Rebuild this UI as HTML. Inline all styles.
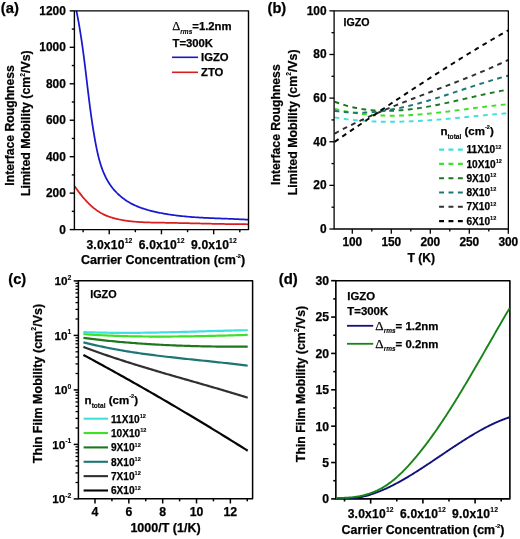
<!DOCTYPE html>
<html lang="en"><head><meta charset="utf-8"><title>Figure</title>
<style>html,body{margin:0;padding:0;background:#fff}svg{display:block}line,rect,path{stroke-linecap:butt}</style>
</head><body>
<svg width="520" height="539" viewBox="0 0 520 539" font-family="Liberation Sans, Arial, sans-serif" font-weight="bold" fill="#000">
<rect width="520" height="539" fill="#fff"/>
<g stroke="#000" stroke-width="0.25" stroke-linejoin="round">
<clipPath id="ca"><rect x="74.40" y="10.85" width="174.10" height="218.75"/></clipPath>
<g clip-path="url(#ca)">
<path d="M74.30,1.00 L76.44,10.88 L76.66,11.98 L76.88,13.07 L77.10,14.16 L77.31,15.25 L77.52,16.34 L77.73,17.42 L77.93,18.51 L78.13,19.60 L78.33,20.69 L78.53,21.77 L78.73,22.86 L78.92,23.94 L79.11,25.03 L79.29,26.11 L79.48,27.20 L79.66,28.28 L79.84,29.36 L80.02,30.44 L80.20,31.53 L80.37,32.61 L80.54,33.69 L80.71,34.77 L80.88,35.85 L81.05,36.93 L81.21,38.01 L81.38,39.09 L81.54,40.17 L81.70,41.25 L81.85,42.32 L82.01,43.40 L82.16,44.48 L82.32,45.55 L82.47,46.63 L82.62,47.71 L82.77,48.78 L82.91,49.86 L83.06,50.94 L83.20,52.01 L83.35,53.09 L83.49,54.16 L83.63,55.23 L83.77,56.31 L83.91,57.38 L84.05,58.46 L84.18,59.53 L84.32,60.60 L84.45,61.68 L84.59,62.75 L84.72,63.82 L84.85,64.90 L84.99,65.97 L85.12,67.04 L85.25,68.12 L85.38,69.19 L85.51,70.26 L85.64,71.33 L85.77,72.41 L85.90,73.48 L86.02,74.55 L86.15,75.62 L86.28,76.69 L86.41,77.77 L86.53,78.84 L86.66,79.91 L86.79,80.98 L86.92,82.05 L87.04,83.13 L87.17,84.20 L87.30,85.27 L87.43,86.34 L87.55,87.42 L87.68,88.49 L87.81,89.56 L87.94,90.64 L88.07,91.71 L88.20,92.78 L88.33,93.85 L88.46,94.93 L88.59,96.00 L88.73,97.08 L88.86,98.15 L88.99,99.22 L89.13,100.30 L89.26,101.37 L89.40,102.45 L89.53,103.52 L89.67,104.60 L89.81,105.67 L89.95,106.75 L90.09,107.82 L90.23,108.90 L90.38,109.98 L90.52,111.05 L90.67,112.13 L90.82,113.21 L90.96,114.29 L91.11,115.37 L91.27,116.44 L91.42,117.52 L91.57,118.60 L91.73,119.68 L91.89,120.76 L92.05,121.84 L92.21,122.93 L92.37,124.01 L92.54,125.09 L92.70,126.17 L92.87,127.25 L93.04,128.34 L93.21,129.42 L93.39,130.51 L93.57,131.59 L93.74,132.68 L93.93,133.76 L94.11,134.85 L94.29,135.93 L94.48,137.02 L94.67,138.11 L94.87,139.20 L95.06,140.29 L95.26,141.38 L95.46,142.47 L95.66,143.56 L95.87,144.65 L96.08,145.74 L96.29,146.83 L96.51,147.92 L96.73,149.01 L96.96,150.10 L97.19,151.19 L97.43,152.27 L97.67,153.35 L97.92,154.43 L98.17,155.51 L98.44,156.59 L98.71,157.66 L98.98,158.73 L99.27,159.79 L99.56,160.85 L99.86,161.91 L100.17,162.96 L100.49,164.01 L100.82,165.06 L101.16,166.09 L101.51,167.13 L101.87,168.15 L102.24,169.17 L102.62,170.19 L103.02,171.20 L103.42,172.20 L103.84,173.19 L104.27,174.18 L104.71,175.16 L105.17,176.13 L105.64,177.09 L106.12,178.05 L106.62,179.00 L107.13,179.93 L107.66,180.86 L108.20,181.78 L108.76,182.69 L109.33,183.59 L109.92,184.48 L110.53,185.35 L111.15,186.22 L111.79,187.08 L112.45,187.92 L113.12,188.76 L113.81,189.58 L114.51,190.39 L115.23,191.19 L115.97,191.97 L116.72,192.74 L117.49,193.50 L118.26,194.25 L119.06,194.98 L119.86,195.70 L120.68,196.40 L121.52,197.09 L122.36,197.76 L123.22,198.42 L124.09,199.07 L124.97,199.70 L125.87,200.31 L126.77,200.91 L127.69,201.49 L128.61,202.06 L129.55,202.61 L130.49,203.14 L131.45,203.65 L132.41,204.15 L133.38,204.64 L134.37,205.11 L135.35,205.56 L136.35,206.00 L137.36,206.43 L138.37,206.84 L139.39,207.24 L140.41,207.62 L141.44,207.99 L142.48,208.35 L143.52,208.70 L144.56,209.04 L145.62,209.37 L146.67,209.68 L147.73,209.99 L148.79,210.28 L149.86,210.57 L150.93,210.85 L152.00,211.12 L153.07,211.38 L154.15,211.63 L155.22,211.87 L156.30,212.11 L157.38,212.34 L158.46,212.56 L159.54,212.78 L160.62,212.99 L161.70,213.20 L162.78,213.40 L163.86,213.59 L164.94,213.78 L166.02,213.97 L167.10,214.15 L168.18,214.32 L169.26,214.49 L170.34,214.65 L171.42,214.81 L172.51,214.96 L173.59,215.11 L174.67,215.25 L175.75,215.39 L176.83,215.53 L177.91,215.66 L178.99,215.79 L180.08,215.91 L181.16,216.03 L182.24,216.14 L183.32,216.25 L184.40,216.36 L185.49,216.46 L186.57,216.56 L187.65,216.66 L188.73,216.75 L189.82,216.84 L190.90,216.93 L191.98,217.01 L193.07,217.09 L194.15,217.17 L195.23,217.25 L196.32,217.32 L197.40,217.39 L198.49,217.46 L199.57,217.52 L200.65,217.59 L201.74,217.65 L202.82,217.71 L203.91,217.76 L204.99,217.82 L206.08,217.87 L207.16,217.93 L208.25,217.98 L209.33,218.03 L210.42,218.07 L211.50,218.12 L212.59,218.17 L213.67,218.21 L214.76,218.26 L215.85,218.30 L216.93,218.34 L218.02,218.38 L219.11,218.43 L220.19,218.47 L221.28,218.51 L222.37,218.55 L223.45,218.59 L224.54,218.63 L225.63,218.67 L226.71,218.71 L227.80,218.75 L228.89,218.80 L229.98,218.84 L231.07,218.88 L232.15,218.93 L233.24,218.97 L234.33,219.02 L235.42,219.06 L236.51,219.11 L237.60,219.16 L238.68,219.21 L239.77,219.26 L240.86,219.32 L241.95,219.37 L243.04,219.43 L244.13,219.49 L245.22,219.55 L246.31,219.61 L247.40,219.68 L248.49,219.74" fill="none" stroke="#1818d0" stroke-width="1.75" stroke-linejoin="round" />
<path d="M74.74,186.35 L75.10,186.85 L75.45,187.36 L75.81,187.86 L76.17,188.37 L76.54,188.87 L76.90,189.38 L77.27,189.88 L77.64,190.39 L78.01,190.89 L78.39,191.40 L78.76,191.90 L79.14,192.40 L79.52,192.90 L79.91,193.40 L80.29,193.90 L80.68,194.40 L81.07,194.89 L81.47,195.39 L81.86,195.88 L82.26,196.37 L82.66,196.86 L83.07,197.34 L83.47,197.83 L83.88,198.31 L84.30,198.79 L84.71,199.26 L85.13,199.73 L85.55,200.20 L85.98,200.67 L86.40,201.13 L86.83,201.59 L87.27,202.05 L87.70,202.50 L88.14,202.95 L88.58,203.40 L89.03,203.84 L89.48,204.28 L89.93,204.71 L90.39,205.14 L90.84,205.56 L91.31,205.98 L91.77,206.40 L92.24,206.81 L92.71,207.21 L93.19,207.61 L93.67,208.01 L94.15,208.40 L94.64,208.78 L95.13,209.16 L95.62,209.53 L96.12,209.90 L96.62,210.26 L97.13,210.61 L97.64,210.96 L98.15,211.30 L98.67,211.64 L99.19,211.97 L99.71,212.29 L100.24,212.60 L100.77,212.91 L101.31,213.21 L101.85,213.50 L102.39,213.79 L102.94,214.07 L103.49,214.34 L104.05,214.61 L104.61,214.87 L105.17,215.12 L105.74,215.37 L106.31,215.61 L106.88,215.84 L107.45,216.07 L108.03,216.29 L108.61,216.51 L109.20,216.72 L109.78,216.92 L110.37,217.12 L110.96,217.31 L111.55,217.50 L112.15,217.68 L112.75,217.86 L113.35,218.04 L113.95,218.20 L114.55,218.37 L115.16,218.53 L115.76,218.68 L116.37,218.83 L116.98,218.97 L117.59,219.11 L118.20,219.25 L118.81,219.38 L119.43,219.51 L120.04,219.64 L120.65,219.76 L121.27,219.88 L121.89,219.99 L122.50,220.10 L123.12,220.21 L123.74,220.31 L124.35,220.42 L124.97,220.51 L125.59,220.61 L126.21,220.70 L126.83,220.79 L127.45,220.87 L128.07,220.96 L128.69,221.04 L129.31,221.12 L129.93,221.19 L130.55,221.26 L131.17,221.33 L131.79,221.40 L132.41,221.46 L133.03,221.52 L133.66,221.58 L134.28,221.64 L134.90,221.70 L135.53,221.75 L136.15,221.80 L136.77,221.85 L137.40,221.90 L138.02,221.94 L138.64,221.98 L139.27,222.02 L139.89,222.06 L140.52,222.10 L141.14,222.13 L141.77,222.17 L142.39,222.20 L143.02,222.23 L143.64,222.26 L144.27,222.29 L144.89,222.31 L145.52,222.34 L146.15,222.36 L146.77,222.38 L147.40,222.41 L148.02,222.43 L148.65,222.44 L149.28,222.46 L149.90,222.48 L150.53,222.50 L151.16,222.51 L151.78,222.53 L152.41,222.54 L153.04,222.55 L153.66,222.57 L154.29,222.58 L154.92,222.59 L155.54,222.60 L156.17,222.61 L156.79,222.62 L157.42,222.63 L158.05,222.64 L158.67,222.65 L159.30,222.66 L159.93,222.67 L160.55,222.68 L161.18,222.69 L161.80,222.70 L162.43,222.71 L163.05,222.72 L163.68,222.73 L164.31,222.74 L164.93,222.75 L165.56,222.76 L166.18,222.77 L166.81,222.78 L167.43,222.79 L168.06,222.80 L168.68,222.81 L169.30,222.82 L169.93,222.84 L170.55,222.85 L171.18,222.86 L171.80,222.87 L172.43,222.88 L173.05,222.90 L173.67,222.91 L174.30,222.92 L174.92,222.93 L175.55,222.95 L176.17,222.96 L176.79,222.97 L177.42,222.98 L178.04,223.00 L178.66,223.01 L179.29,223.02 L179.91,223.04 L180.53,223.05 L181.16,223.06 L181.78,223.08 L182.40,223.09 L183.03,223.10 L183.65,223.12 L184.27,223.13 L184.90,223.15 L185.52,223.16 L186.14,223.17 L186.76,223.19 L187.39,223.20 L188.01,223.22 L188.63,223.23 L189.26,223.24 L189.88,223.26 L190.50,223.27 L191.12,223.29 L191.75,223.30 L192.37,223.32 L192.99,223.33 L193.61,223.34 L194.24,223.36 L194.86,223.37 L195.48,223.39 L196.10,223.40 L196.73,223.42 L197.35,223.43 L197.97,223.44 L198.59,223.46 L199.21,223.47 L199.84,223.49 L200.46,223.50 L201.08,223.52 L201.70,223.53 L202.33,223.54 L202.95,223.56 L203.57,223.57 L204.19,223.59 L204.82,223.60 L205.44,223.61 L206.06,223.63 L206.68,223.64 L207.31,223.66 L207.93,223.67 L208.55,223.68 L209.17,223.70 L209.80,223.71 L210.42,223.72 L211.04,223.74 L211.66,223.75 L212.29,223.76 L212.91,223.78 L213.53,223.79 L214.15,223.80 L214.78,223.81 L215.40,223.83 L216.02,223.84 L216.65,223.85 L217.27,223.86 L217.89,223.88 L218.51,223.89 L219.14,223.90 L219.76,223.91 L220.38,223.92 L221.01,223.93 L221.63,223.95 L222.25,223.96 L222.88,223.97 L223.50,223.98 L224.13,223.99 L224.75,224.00 L225.37,224.01 L226.00,224.02 L226.62,224.03 L227.24,224.04 L227.87,224.05 L228.49,224.06 L229.12,224.07 L229.74,224.08 L230.37,224.09 L230.99,224.10 L231.61,224.11 L232.24,224.11 L232.86,224.12 L233.49,224.13 L234.11,224.14 L234.74,224.15 L235.36,224.15 L235.99,224.16 L236.61,224.17 L237.24,224.17 L237.87,224.18 L238.49,224.19 L239.12,224.19 L239.74,224.20 L240.37,224.20 L241.00,224.21 L241.62,224.21 L242.25,224.22 L242.87,224.22 L243.50,224.23 L244.13,224.23 L244.75,224.24 L245.38,224.24 L246.01,224.24 L246.64,224.25 L247.26,224.25 L247.89,224.25 L248.52,224.25" fill="none" stroke="#d81e1e" stroke-width="1.75" stroke-linejoin="round" />
</g>
<rect x="74.40" y="10.85" width="174.10" height="218.75" fill="none" stroke="#000" stroke-width="1.4"/>
<line x1="69.70" y1="229.60" x2="74.40" y2="229.60" stroke="#000" stroke-width="1.4" />
<text x="65.80" y="233.50" font-size="11.9" text-anchor="end" >0</text>
<line x1="71.80" y1="211.37" x2="74.40" y2="211.37" stroke="#000" stroke-width="1.4" />
<line x1="69.70" y1="193.14" x2="74.40" y2="193.14" stroke="#000" stroke-width="1.4" />
<text x="65.80" y="197.04" font-size="11.9" text-anchor="end" >200</text>
<line x1="71.80" y1="174.91" x2="74.40" y2="174.91" stroke="#000" stroke-width="1.4" />
<line x1="69.70" y1="156.68" x2="74.40" y2="156.68" stroke="#000" stroke-width="1.4" />
<text x="65.80" y="160.58" font-size="11.9" text-anchor="end" >400</text>
<line x1="71.80" y1="138.45" x2="74.40" y2="138.45" stroke="#000" stroke-width="1.4" />
<line x1="69.70" y1="120.22" x2="74.40" y2="120.22" stroke="#000" stroke-width="1.4" />
<text x="65.80" y="124.12" font-size="11.9" text-anchor="end" >600</text>
<line x1="71.80" y1="102.00" x2="74.40" y2="102.00" stroke="#000" stroke-width="1.4" />
<line x1="69.70" y1="83.77" x2="74.40" y2="83.77" stroke="#000" stroke-width="1.4" />
<text x="65.80" y="87.67" font-size="11.9" text-anchor="end" >800</text>
<line x1="71.80" y1="65.54" x2="74.40" y2="65.54" stroke="#000" stroke-width="1.4" />
<line x1="69.70" y1="47.31" x2="74.40" y2="47.31" stroke="#000" stroke-width="1.4" />
<text x="65.80" y="51.21" font-size="11.9" text-anchor="end" >1000</text>
<line x1="71.80" y1="29.08" x2="74.40" y2="29.08" stroke="#000" stroke-width="1.4" />
<line x1="69.70" y1="10.85" x2="74.40" y2="10.85" stroke="#000" stroke-width="1.4" />
<text x="65.80" y="14.75" font-size="11.9" text-anchor="end" >1200</text>
<line x1="83.11" y1="229.60" x2="83.11" y2="232.20" stroke="#000" stroke-width="1.4" />
<line x1="109.22" y1="229.60" x2="109.22" y2="234.30" stroke="#000" stroke-width="1.4" />
<text x="109.52" y="248.50" font-size="12.1" text-anchor="middle" letter-spacing="0.2">3.0x10<tspan font-size="6.8" dy="-5.6" stroke-width="0.1">12</tspan></text>
<line x1="135.34" y1="229.60" x2="135.34" y2="232.20" stroke="#000" stroke-width="1.4" />
<line x1="161.45" y1="229.60" x2="161.45" y2="234.30" stroke="#000" stroke-width="1.4" />
<text x="161.75" y="248.50" font-size="12.1" text-anchor="middle" letter-spacing="0.2">6.0x10<tspan font-size="6.8" dy="-5.6" stroke-width="0.1">12</tspan></text>
<line x1="187.56" y1="229.60" x2="187.56" y2="232.20" stroke="#000" stroke-width="1.4" />
<line x1="213.68" y1="229.60" x2="213.68" y2="234.30" stroke="#000" stroke-width="1.4" />
<text x="213.98" y="248.50" font-size="12.1" text-anchor="middle" letter-spacing="0.2">9.0x10<tspan font-size="6.8" dy="-5.6" stroke-width="0.1">12</tspan></text>
<line x1="239.80" y1="229.60" x2="239.80" y2="232.20" stroke="#000" stroke-width="1.4" />
<text x="163.10" y="263.80" font-size="12.5" text-anchor="middle" >Carrier Concentration (cm<tspan font-size="5.8" dy="-5.8" stroke-width="0.1">-2</tspan><tspan dy="5.8">)</tspan></text>
<text x="0.80" y="13.40" font-size="14.8" text-anchor="start" >(a)</text>
<text transform="translate(13.60,125.40) rotate(-90)" font-size="12.2" text-anchor="middle">Interface Roughness</text>
<text transform="translate(30.40,123.20) rotate(-90)" font-size="12.35" text-anchor="middle">Limited Mobility (cm<tspan font-size="6.8" dy="-5.4" stroke-width="0.1">2</tspan><tspan dy="5.4">/Vs)</tspan></text>
<text x="172.3" y="30.3" font-size="11.3"><tspan font-family="Liberation Serif, Times New Roman, serif" font-weight="normal" font-size="12.5">&#916;</tspan><tspan font-size="6.5" dy="3.4" stroke-width="0.1" font-style='italic'>rms</tspan><tspan dy="-3.4">=1.2nm</tspan></text>
<text x="172.50" y="47.10" font-size="11.3" text-anchor="start" >T=300K</text>
<line x1="172.00" y1="57.30" x2="198.00" y2="57.30" stroke="#1818d0" stroke-width="1.6" />
<text x="201.00" y="61.30" font-size="11.3" text-anchor="start" >IGZO</text>
<line x1="172.00" y1="72.30" x2="198.00" y2="72.30" stroke="#d81e1e" stroke-width="1.6" />
<text x="201.00" y="76.30" font-size="11.3" text-anchor="start" >ZTO</text>
<clipPath id="cb"><rect x="334.10" y="10.85" width="174.75" height="218.15"/></clipPath>
<g clip-path="url(#cb)">
<path d="M334.59,117.41 L336.05,117.66 L337.51,117.90 L338.97,118.13 L340.43,118.35 L341.89,118.57 L343.35,118.77 L344.81,118.97 L346.27,119.16 L347.73,119.35 L349.19,119.52 L350.65,119.69 L352.11,119.85 L353.57,120.01 L355.03,120.16 L356.49,120.30 L357.95,120.43 L359.41,120.56 L360.87,120.68 L362.33,120.79 L363.79,120.90 L365.25,121.00 L366.71,121.09 L368.17,121.18 L369.63,121.26 L371.09,121.33 L372.55,121.40 L374.01,121.47 L375.47,121.52 L376.93,121.57 L378.39,121.62 L379.85,121.66 L381.30,121.69 L382.76,121.72 L384.22,121.74 L385.68,121.76 L387.14,121.77 L388.60,121.78 L390.06,121.78 L391.52,121.78 L392.98,121.77 L394.44,121.76 L395.90,121.75 L397.36,121.72 L398.82,121.70 L400.28,121.67 L401.74,121.63 L403.20,121.59 L404.66,121.55 L406.12,121.50 L407.58,121.45 L409.04,121.40 L410.50,121.34 L411.96,121.27 L413.42,121.21 L414.88,121.14 L416.34,121.06 L417.80,120.99 L419.26,120.91 L420.72,120.82 L422.18,120.73 L423.64,120.65 L425.10,120.55 L426.56,120.46 L428.02,120.36 L429.48,120.26 L430.94,120.15 L432.39,120.05 L433.85,119.94 L435.31,119.82 L436.77,119.71 L438.23,119.60 L439.69,119.48 L441.15,119.36 L442.61,119.23 L444.07,119.11 L445.53,118.99 L446.99,118.86 L448.45,118.73 L449.91,118.60 L451.37,118.47 L452.83,118.33 L454.29,118.20 L455.75,118.06 L457.21,117.93 L458.67,117.79 L460.13,117.65 L461.59,117.51 L463.05,117.37 L464.51,117.23 L465.97,117.09 L467.43,116.94 L468.89,116.80 L470.35,116.66 L471.81,116.51 L473.27,116.37 L474.73,116.23 L476.19,116.08 L477.65,115.94 L479.11,115.80 L480.57,115.66 L482.03,115.51 L483.48,115.37 L484.94,115.23 L486.40,115.09 L487.86,114.95 L489.32,114.81 L490.78,114.67 L492.24,114.53 L493.70,114.40 L495.16,114.26 L496.62,114.13 L498.08,114.00 L499.54,113.87 L501.00,113.74 L502.46,113.61 L503.92,113.48 L505.38,113.36 L506.84,113.23 L508.30,113.11" fill="none" stroke="#40e0e0" stroke-width="1.95" stroke-linejoin="round" stroke-dasharray="4.8 4.5"/>
<path d="M334.59,108.74 L336.05,109.13 L337.51,109.51 L338.97,109.87 L340.43,110.22 L341.89,110.55 L343.35,110.88 L344.81,111.19 L346.27,111.49 L347.73,111.78 L349.19,112.06 L350.65,112.33 L352.11,112.58 L353.57,112.82 L355.03,113.06 L356.49,113.28 L357.95,113.49 L359.41,113.69 L360.87,113.88 L362.33,114.06 L363.79,114.22 L365.25,114.38 L366.71,114.53 L368.17,114.67 L369.63,114.80 L371.09,114.92 L372.55,115.03 L374.01,115.13 L375.47,115.22 L376.93,115.31 L378.39,115.38 L379.85,115.45 L381.30,115.50 L382.76,115.55 L384.22,115.59 L385.68,115.63 L387.14,115.65 L388.60,115.67 L390.06,115.68 L391.52,115.68 L392.98,115.67 L394.44,115.66 L395.90,115.64 L397.36,115.61 L398.82,115.58 L400.28,115.54 L401.74,115.49 L403.20,115.44 L404.66,115.38 L406.12,115.31 L407.58,115.24 L409.04,115.17 L410.50,115.08 L411.96,114.99 L413.42,114.90 L414.88,114.80 L416.34,114.70 L417.80,114.59 L419.26,114.48 L420.72,114.36 L422.18,114.23 L423.64,114.11 L425.10,113.98 L426.56,113.84 L428.02,113.70 L429.48,113.56 L430.94,113.41 L432.39,113.26 L433.85,113.11 L435.31,112.95 L436.77,112.79 L438.23,112.63 L439.69,112.46 L441.15,112.29 L442.61,112.12 L444.07,111.95 L445.53,111.78 L446.99,111.60 L448.45,111.42 L449.91,111.24 L451.37,111.05 L452.83,110.87 L454.29,110.69 L455.75,110.50 L457.21,110.31 L458.67,110.12 L460.13,109.93 L461.59,109.74 L463.05,109.55 L464.51,109.36 L465.97,109.17 L467.43,108.98 L468.89,108.79 L470.35,108.60 L471.81,108.41 L473.27,108.22 L474.73,108.03 L476.19,107.84 L477.65,107.65 L479.11,107.47 L480.57,107.28 L482.03,107.10 L483.48,106.91 L484.94,106.73 L486.40,106.56 L487.86,106.38 L489.32,106.20 L490.78,106.03 L492.24,105.86 L493.70,105.69 L495.16,105.53 L496.62,105.37 L498.08,105.21 L499.54,105.05 L501.00,104.90 L502.46,104.75 L503.92,104.60 L505.38,104.46 L506.84,104.32 L508.30,104.19" fill="none" stroke="#3fe02a" stroke-width="1.95" stroke-linejoin="round" stroke-dasharray="4.8 4.5"/>
<path d="M334.59,101.66 L336.05,102.22 L337.51,102.76 L338.97,103.28 L340.43,103.78 L341.89,104.26 L343.35,104.72 L344.81,105.16 L346.27,105.58 L347.73,105.99 L349.19,106.38 L350.65,106.75 L352.11,107.10 L353.57,107.43 L355.03,107.75 L356.49,108.05 L357.95,108.34 L359.41,108.60 L360.87,108.85 L362.33,109.09 L363.79,109.31 L365.25,109.51 L366.71,109.70 L368.17,109.87 L369.63,110.03 L371.09,110.18 L372.55,110.30 L374.01,110.42 L375.47,110.52 L376.93,110.61 L378.39,110.68 L379.85,110.74 L381.30,110.79 L382.76,110.82 L384.22,110.84 L385.68,110.85 L387.14,110.85 L388.60,110.83 L390.06,110.80 L391.52,110.76 L392.98,110.71 L394.44,110.65 L395.90,110.58 L397.36,110.49 L398.82,110.40 L400.28,110.30 L401.74,110.18 L403.20,110.06 L404.66,109.92 L406.12,109.78 L407.58,109.63 L409.04,109.47 L410.50,109.30 L411.96,109.12 L413.42,108.93 L414.88,108.74 L416.34,108.53 L417.80,108.32 L419.26,108.10 L420.72,107.88 L422.18,107.65 L423.64,107.41 L425.10,107.16 L426.56,106.91 L428.02,106.65 L429.48,106.39 L430.94,106.12 L432.39,105.85 L433.85,105.57 L435.31,105.28 L436.77,104.99 L438.23,104.70 L439.69,104.40 L441.15,104.10 L442.61,103.79 L444.07,103.48 L445.53,103.17 L446.99,102.85 L448.45,102.53 L449.91,102.21 L451.37,101.89 L452.83,101.56 L454.29,101.23 L455.75,100.90 L457.21,100.56 L458.67,100.23 L460.13,99.90 L461.59,99.56 L463.05,99.22 L464.51,98.88 L465.97,98.55 L467.43,98.21 L468.89,97.87 L470.35,97.53 L471.81,97.20 L473.27,96.86 L474.73,96.52 L476.19,96.19 L477.65,95.86 L479.11,95.53 L480.57,95.20 L482.03,94.87 L483.48,94.55 L484.94,94.22 L486.40,93.90 L487.86,93.59 L489.32,93.28 L490.78,92.97 L492.24,92.66 L493.70,92.36 L495.16,92.06 L496.62,91.77 L498.08,91.48 L499.54,91.19 L501.00,90.91 L502.46,90.64 L503.92,90.37 L505.38,90.11 L506.84,89.85 L508.30,89.60" fill="none" stroke="#1d781d" stroke-width="1.95" stroke-linejoin="round" stroke-dasharray="4.8 4.5"/>
<path d="M334.59,110.72 L336.05,110.96 L337.51,111.18 L338.97,111.39 L340.43,111.59 L341.89,111.76 L343.35,111.92 L344.81,112.07 L346.27,112.20 L347.73,112.31 L349.19,112.41 L350.65,112.50 L352.11,112.57 L353.57,112.62 L355.03,112.66 L356.49,112.69 L357.95,112.70 L359.41,112.70 L360.87,112.68 L362.33,112.66 L363.79,112.62 L365.25,112.56 L366.71,112.49 L368.17,112.41 L369.63,112.32 L371.09,112.22 L372.55,112.10 L374.01,111.97 L375.47,111.83 L376.93,111.68 L378.39,111.52 L379.85,111.35 L381.30,111.16 L382.76,110.97 L384.22,110.76 L385.68,110.55 L387.14,110.32 L388.60,110.08 L390.06,109.84 L391.52,109.58 L392.98,109.32 L394.44,109.05 L395.90,108.77 L397.36,108.47 L398.82,108.18 L400.28,107.87 L401.74,107.55 L403.20,107.23 L404.66,106.90 L406.12,106.56 L407.58,106.21 L409.04,105.86 L410.50,105.50 L411.96,105.13 L413.42,104.76 L414.88,104.38 L416.34,103.99 L417.80,103.60 L419.26,103.20 L420.72,102.79 L422.18,102.39 L423.64,101.97 L425.10,101.55 L426.56,101.13 L428.02,100.70 L429.48,100.26 L430.94,99.83 L432.39,99.38 L433.85,98.94 L435.31,98.49 L436.77,98.04 L438.23,97.58 L439.69,97.12 L441.15,96.66 L442.61,96.20 L444.07,95.73 L445.53,95.26 L446.99,94.79 L448.45,94.31 L449.91,93.84 L451.37,93.36 L452.83,92.88 L454.29,92.40 L455.75,91.92 L457.21,91.44 L458.67,90.96 L460.13,90.48 L461.59,90.00 L463.05,89.51 L464.51,89.03 L465.97,88.55 L467.43,88.07 L468.89,87.59 L470.35,87.11 L471.81,86.63 L473.27,86.16 L474.73,85.68 L476.19,85.21 L477.65,84.74 L479.11,84.27 L480.57,83.80 L482.03,83.34 L483.48,82.87 L484.94,82.42 L486.40,81.96 L487.86,81.51 L489.32,81.06 L490.78,80.61 L492.24,80.17 L493.70,79.74 L495.16,79.30 L496.62,78.88 L498.08,78.45 L499.54,78.03 L501.00,77.62 L502.46,77.21 L503.92,76.81 L505.38,76.41 L506.84,76.02 L508.30,75.63" fill="none" stroke="#1d7676" stroke-width="1.95" stroke-linejoin="round" stroke-dasharray="4.8 4.5"/>
<path d="M334.59,133.57 L336.05,132.79 L337.51,132.01 L338.97,131.24 L340.43,130.48 L341.89,129.72 L343.35,128.97 L344.81,128.23 L346.27,127.49 L347.73,126.76 L349.19,126.03 L350.65,125.31 L352.11,124.60 L353.57,123.89 L355.03,123.19 L356.49,122.49 L357.95,121.80 L359.41,121.11 L360.87,120.43 L362.33,119.75 L363.79,119.08 L365.25,118.42 L366.71,117.75 L368.17,117.10 L369.63,116.44 L371.09,115.80 L372.55,115.15 L374.01,114.51 L375.47,113.88 L376.93,113.25 L378.39,112.62 L379.85,111.99 L381.30,111.37 L382.76,110.76 L384.22,110.15 L385.68,109.54 L387.14,108.93 L388.60,108.33 L390.06,107.73 L391.52,107.13 L392.98,106.54 L394.44,105.95 L395.90,105.36 L397.36,104.77 L398.82,104.19 L400.28,103.61 L401.74,103.03 L403.20,102.45 L404.66,101.88 L406.12,101.30 L407.58,100.73 L409.04,100.16 L410.50,99.60 L411.96,99.03 L413.42,98.47 L414.88,97.90 L416.34,97.34 L417.80,96.78 L419.26,96.22 L420.72,95.66 L422.18,95.11 L423.64,94.55 L425.10,93.99 L426.56,93.44 L428.02,92.88 L429.48,92.33 L430.94,91.77 L432.39,91.22 L433.85,90.66 L435.31,90.11 L436.77,89.55 L438.23,88.99 L439.69,88.44 L441.15,87.88 L442.61,87.32 L444.07,86.77 L445.53,86.21 L446.99,85.65 L448.45,85.09 L449.91,84.52 L451.37,83.96 L452.83,83.40 L454.29,82.83 L455.75,82.26 L457.21,81.69 L458.67,81.12 L460.13,80.55 L461.59,79.97 L463.05,79.40 L464.51,78.82 L465.97,78.24 L467.43,77.65 L468.89,77.07 L470.35,76.48 L471.81,75.89 L473.27,75.29 L474.73,74.69 L476.19,74.09 L477.65,73.49 L479.11,72.88 L480.57,72.27 L482.03,71.66 L483.48,71.04 L484.94,70.42 L486.40,69.80 L487.86,69.17 L489.32,68.54 L490.78,67.90 L492.24,67.26 L493.70,66.61 L495.16,65.96 L496.62,65.31 L498.08,64.65 L499.54,63.99 L501.00,63.32 L502.46,62.65 L503.92,61.97 L505.38,61.29 L506.84,60.60 L508.30,59.91" fill="none" stroke="#303030" stroke-width="1.95" stroke-linejoin="round" stroke-dasharray="4.8 4.5"/>
<path d="M334.59,141.84 L336.05,140.85 L337.51,139.85 L338.97,138.86 L340.43,137.86 L341.89,136.87 L343.35,135.87 L344.81,134.88 L346.27,133.89 L347.73,132.89 L349.19,131.90 L350.65,130.90 L352.11,129.91 L353.57,128.92 L355.03,127.93 L356.49,126.94 L357.95,125.94 L359.41,124.95 L360.87,123.96 L362.33,122.97 L363.79,121.98 L365.25,120.99 L366.71,120.01 L368.17,119.02 L369.63,118.03 L371.09,117.05 L372.55,116.06 L374.01,115.07 L375.47,114.09 L376.93,113.11 L378.39,112.12 L379.85,111.14 L381.30,110.16 L382.76,109.18 L384.22,108.20 L385.68,107.22 L387.14,106.24 L388.60,105.26 L390.06,104.29 L391.52,103.31 L392.98,102.34 L394.44,101.36 L395.90,100.39 L397.36,99.42 L398.82,98.45 L400.28,97.48 L401.74,96.51 L403.20,95.54 L404.66,94.58 L406.12,93.61 L407.58,92.65 L409.04,91.69 L410.50,90.73 L411.96,89.77 L413.42,88.81 L414.88,87.85 L416.34,86.89 L417.80,85.94 L419.26,84.99 L420.72,84.03 L422.18,83.08 L423.64,82.13 L425.10,81.19 L426.56,80.24 L428.02,79.29 L429.48,78.35 L430.94,77.41 L432.39,76.47 L433.85,75.53 L435.31,74.59 L436.77,73.66 L438.23,72.72 L439.69,71.79 L441.15,70.86 L442.61,69.93 L444.07,69.01 L445.53,68.08 L446.99,67.16 L448.45,66.23 L449.91,65.31 L451.37,64.40 L452.83,63.48 L454.29,62.57 L455.75,61.65 L457.21,60.74 L458.67,59.83 L460.13,58.93 L461.59,58.02 L463.05,57.12 L464.51,56.22 L465.97,55.32 L467.43,54.43 L468.89,53.53 L470.35,52.64 L471.81,51.75 L473.27,50.86 L474.73,49.98 L476.19,49.09 L477.65,48.21 L479.11,47.33 L480.57,46.46 L482.03,45.58 L483.48,44.71 L484.94,43.84 L486.40,42.97 L487.86,42.11 L489.32,41.25 L490.78,40.39 L492.24,39.53 L493.70,38.67 L495.16,37.82 L496.62,36.97 L498.08,36.13 L499.54,35.28 L501.00,34.44 L502.46,33.60 L503.92,32.76 L505.38,31.93 L506.84,31.10 L508.30,30.27" fill="none" stroke="#050505" stroke-width="1.95" stroke-linejoin="round" stroke-dasharray="4.8 4.5"/>
</g>
<rect x="334.10" y="10.85" width="174.25" height="218.15" fill="none" stroke="#000" stroke-width="1.3"/>
<line x1="329.40" y1="229.00" x2="334.10" y2="229.00" stroke="#000" stroke-width="1.3" />
<text x="326.50" y="232.90" font-size="11.9" text-anchor="end" >0</text>
<line x1="331.50" y1="207.19" x2="334.10" y2="207.19" stroke="#000" stroke-width="1.3" />
<line x1="329.40" y1="185.37" x2="334.10" y2="185.37" stroke="#000" stroke-width="1.3" />
<text x="326.50" y="189.27" font-size="11.9" text-anchor="end" >20</text>
<line x1="331.50" y1="163.56" x2="334.10" y2="163.56" stroke="#000" stroke-width="1.3" />
<line x1="329.40" y1="141.74" x2="334.10" y2="141.74" stroke="#000" stroke-width="1.3" />
<text x="326.50" y="145.64" font-size="11.9" text-anchor="end" >40</text>
<line x1="331.50" y1="119.92" x2="334.10" y2="119.92" stroke="#000" stroke-width="1.3" />
<line x1="329.40" y1="98.11" x2="334.10" y2="98.11" stroke="#000" stroke-width="1.3" />
<text x="326.50" y="102.01" font-size="11.9" text-anchor="end" >60</text>
<line x1="331.50" y1="76.29" x2="334.10" y2="76.29" stroke="#000" stroke-width="1.3" />
<line x1="329.40" y1="54.48" x2="334.10" y2="54.48" stroke="#000" stroke-width="1.3" />
<text x="326.50" y="58.38" font-size="11.9" text-anchor="end" >80</text>
<line x1="331.50" y1="32.66" x2="334.10" y2="32.66" stroke="#000" stroke-width="1.3" />
<line x1="329.40" y1="10.85" x2="334.10" y2="10.85" stroke="#000" stroke-width="1.3" />
<text x="326.50" y="14.75" font-size="11.9" text-anchor="end" >100</text>
<line x1="352.30" y1="229.00" x2="352.30" y2="233.70" stroke="#000" stroke-width="1.3" />
<text x="352.30" y="246.20" font-size="11.9" text-anchor="middle" >100</text>
<line x1="371.80" y1="229.00" x2="371.80" y2="231.60" stroke="#000" stroke-width="1.3" />
<line x1="391.30" y1="229.00" x2="391.30" y2="233.70" stroke="#000" stroke-width="1.3" />
<text x="391.30" y="246.20" font-size="11.9" text-anchor="middle" >150</text>
<line x1="410.80" y1="229.00" x2="410.80" y2="231.60" stroke="#000" stroke-width="1.3" />
<line x1="430.30" y1="229.00" x2="430.30" y2="233.70" stroke="#000" stroke-width="1.3" />
<text x="430.30" y="246.20" font-size="11.9" text-anchor="middle" >200</text>
<line x1="449.80" y1="229.00" x2="449.80" y2="231.60" stroke="#000" stroke-width="1.3" />
<line x1="469.30" y1="229.00" x2="469.30" y2="233.70" stroke="#000" stroke-width="1.3" />
<text x="469.30" y="246.20" font-size="11.9" text-anchor="middle" >250</text>
<line x1="488.80" y1="229.00" x2="488.80" y2="231.60" stroke="#000" stroke-width="1.3" />
<line x1="508.30" y1="229.00" x2="508.30" y2="233.70" stroke="#000" stroke-width="1.3" />
<text x="508.30" y="246.20" font-size="11.9" text-anchor="middle" >300</text>
<text x="421.30" y="262.00" font-size="12.2" text-anchor="middle" >T (K)</text>
<text x="267.60" y="13.40" font-size="14.6" text-anchor="start" >(b)</text>
<text transform="translate(279.80,124.60) rotate(-90)" font-size="12.2" text-anchor="middle">Interface Roughness</text>
<text transform="translate(296.60,122.30) rotate(-90)" font-size="12.35" text-anchor="middle">Limited Mobility (cm<tspan font-size="6.8" dy="-5.4" stroke-width="0.1">2</tspan><tspan dy="5.4">/Vs)</tspan></text>
<text x="343.50" y="26.20" font-size="10.6" text-anchor="start" >IGZO</text>
<text x="440.40" y="135.00" font-size="11.5" text-anchor="start" >n<tspan font-size="6.6" dy="3.7" stroke-width="0.1" >total</tspan><tspan dy="-3.7"> (cm</tspan><tspan font-size="5.6" dy="-5.6" stroke-width="0.1">-2</tspan><tspan dy="5.6">)</tspan></text>
<line x1="439.10" y1="149.60" x2="462.80" y2="149.60" stroke="#40e0e0" stroke-width="2.1" stroke-dasharray="4.9 4.5"/>
<text x="466.50" y="153.20" font-size="10.1" text-anchor="start" >11X10<tspan font-size="5.6" dy="-4.7" stroke-width="0.1">12</tspan></text>
<line x1="439.10" y1="163.90" x2="462.80" y2="163.90" stroke="#3fe02a" stroke-width="2.1" stroke-dasharray="4.9 4.5"/>
<text x="466.50" y="167.50" font-size="10.1" text-anchor="start" >10X10<tspan font-size="5.6" dy="-4.7" stroke-width="0.1">12</tspan></text>
<line x1="439.10" y1="178.20" x2="462.80" y2="178.20" stroke="#1d781d" stroke-width="2.1" stroke-dasharray="4.9 4.5"/>
<text x="466.50" y="181.80" font-size="10.1" text-anchor="start" >9X10<tspan font-size="5.6" dy="-4.7" stroke-width="0.1">12</tspan></text>
<line x1="439.10" y1="192.50" x2="462.80" y2="192.50" stroke="#1d7676" stroke-width="2.1" stroke-dasharray="4.9 4.5"/>
<text x="466.50" y="196.10" font-size="10.1" text-anchor="start" >8X10<tspan font-size="5.6" dy="-4.7" stroke-width="0.1">12</tspan></text>
<line x1="439.10" y1="206.80" x2="462.80" y2="206.80" stroke="#303030" stroke-width="2.1" stroke-dasharray="4.9 4.5"/>
<text x="466.50" y="210.40" font-size="10.1" text-anchor="start" >7X10<tspan font-size="5.6" dy="-4.7" stroke-width="0.1">12</tspan></text>
<line x1="439.10" y1="221.10" x2="462.80" y2="221.10" stroke="#050505" stroke-width="2.1" stroke-dasharray="4.9 4.5"/>
<text x="466.50" y="224.70" font-size="10.1" text-anchor="start" >6X10<tspan font-size="5.6" dy="-4.7" stroke-width="0.1">12</tspan></text>
<path d="M83.40,332.10 L85.48,332.18 L87.56,332.26 L89.64,332.33 L91.72,332.39 L93.80,332.45 L95.88,332.51 L97.96,332.56 L100.04,332.61 L102.12,332.65 L104.20,332.69 L106.28,332.72 L108.36,332.76 L110.44,332.78 L112.52,332.80 L114.60,332.82 L116.68,332.84 L118.76,332.85 L120.84,332.86 L122.92,332.86 L124.99,332.86 L127.07,332.86 L129.15,332.86 L131.23,332.85 L133.31,332.84 L135.39,332.82 L137.47,332.81 L139.55,332.79 L141.63,332.76 L143.71,332.74 L145.79,332.71 L147.87,332.68 L149.95,332.65 L152.03,332.62 L154.11,332.58 L156.19,332.54 L158.27,332.50 L160.35,332.46 L162.43,332.42 L164.51,332.37 L166.59,332.32 L168.67,332.27 L170.75,332.22 L172.83,332.17 L174.91,332.12 L176.99,332.07 L179.07,332.01 L181.15,331.96 L183.23,331.90 L185.31,331.84 L187.39,331.78 L189.47,331.73 L191.55,331.67 L193.63,331.61 L195.71,331.55 L197.79,331.49 L199.87,331.43 L201.95,331.37 L204.03,331.31 L206.11,331.25 L208.18,331.18 L210.26,331.12 L212.34,331.07 L214.42,331.01 L216.50,330.95 L218.58,330.89 L220.66,330.83 L222.74,330.78 L224.82,330.72 L226.90,330.67 L228.98,330.61 L231.06,330.56 L233.14,330.51 L235.22,330.46 L237.30,330.41 L239.38,330.36 L241.46,330.32 L243.54,330.27 L245.62,330.23 L247.70,330.19" fill="none" stroke="#40e0e0" stroke-width="2.2" stroke-linejoin="round" />
<path d="M83.40,334.11 L85.48,334.25 L87.56,334.39 L89.64,334.53 L91.72,334.66 L93.80,334.79 L95.88,334.91 L97.96,335.03 L100.04,335.14 L102.12,335.24 L104.20,335.35 L106.28,335.44 L108.36,335.54 L110.44,335.63 L112.52,335.71 L114.60,335.79 L116.68,335.86 L118.76,335.94 L120.84,336.00 L122.92,336.07 L124.99,336.12 L127.07,336.18 L129.15,336.23 L131.23,336.28 L133.31,336.32 L135.39,336.36 L137.47,336.40 L139.55,336.43 L141.63,336.46 L143.71,336.48 L145.79,336.51 L147.87,336.52 L149.95,336.54 L152.03,336.55 L154.11,336.56 L156.19,336.57 L158.27,336.57 L160.35,336.57 L162.43,336.57 L164.51,336.57 L166.59,336.56 L168.67,336.55 L170.75,336.54 L172.83,336.52 L174.91,336.50 L176.99,336.48 L179.07,336.46 L181.15,336.44 L183.23,336.41 L185.31,336.38 L187.39,336.35 L189.47,336.32 L191.55,336.28 L193.63,336.25 L195.71,336.21 L197.79,336.17 L199.87,336.13 L201.95,336.08 L204.03,336.04 L206.11,336.00 L208.18,335.95 L210.26,335.90 L212.34,335.85 L214.42,335.80 L216.50,335.75 L218.58,335.70 L220.66,335.64 L222.74,335.59 L224.82,335.53 L226.90,335.48 L228.98,335.42 L231.06,335.36 L233.14,335.31 L235.22,335.25 L237.30,335.19 L239.38,335.13 L241.46,335.07 L243.54,335.01 L245.62,334.95 L247.70,334.90" fill="none" stroke="#3fe02a" stroke-width="2.2" stroke-linejoin="round" />
<path d="M83.40,337.92 L85.48,338.19 L87.56,338.45 L89.64,338.71 L91.72,338.96 L93.80,339.20 L95.88,339.45 L97.96,339.68 L100.04,339.91 L102.12,340.14 L104.20,340.37 L106.28,340.58 L108.36,340.80 L110.44,341.01 L112.52,341.21 L114.60,341.41 L116.68,341.61 L118.76,341.80 L120.84,341.99 L122.92,342.17 L124.99,342.35 L127.07,342.52 L129.15,342.69 L131.23,342.86 L133.31,343.02 L135.39,343.18 L137.47,343.33 L139.55,343.48 L141.63,343.63 L143.71,343.77 L145.79,343.91 L147.87,344.04 L149.95,344.17 L152.03,344.30 L154.11,344.42 L156.19,344.54 L158.27,344.65 L160.35,344.76 L162.43,344.87 L164.51,344.98 L166.59,345.08 L168.67,345.17 L170.75,345.27 L172.83,345.36 L174.91,345.45 L176.99,345.53 L179.07,345.61 L181.15,345.69 L183.23,345.76 L185.31,345.83 L187.39,345.90 L189.47,345.97 L191.55,346.03 L193.63,346.09 L195.71,346.14 L197.79,346.20 L199.87,346.25 L201.95,346.29 L204.03,346.34 L206.11,346.38 L208.18,346.42 L210.26,346.46 L212.34,346.49 L214.42,346.52 L216.50,346.55 L218.58,346.57 L220.66,346.60 L222.74,346.62 L224.82,346.64 L226.90,346.65 L228.98,346.67 L231.06,346.68 L233.14,346.69 L235.22,346.69 L237.30,346.70 L239.38,346.70 L241.46,346.70 L243.54,346.70 L245.62,346.70 L247.70,346.69" fill="none" stroke="#1d781d" stroke-width="2.2" stroke-linejoin="round" />
<path d="M83.40,342.31 L85.48,342.84 L87.56,343.35 L89.64,343.86 L91.72,344.36 L93.80,344.84 L95.88,345.32 L97.96,345.78 L100.04,346.24 L102.12,346.68 L104.20,347.11 L106.28,347.54 L108.36,347.96 L110.44,348.36 L112.52,348.76 L114.60,349.15 L116.68,349.54 L118.76,349.91 L120.84,350.28 L122.92,350.63 L124.99,350.98 L127.07,351.33 L129.15,351.66 L131.23,351.99 L133.31,352.31 L135.39,352.63 L137.47,352.94 L139.55,353.24 L141.63,353.54 L143.71,353.83 L145.79,354.12 L147.87,354.40 L149.95,354.68 L152.03,354.95 L154.11,355.21 L156.19,355.48 L158.27,355.73 L160.35,355.99 L162.43,356.24 L164.51,356.48 L166.59,356.73 L168.67,356.97 L170.75,357.20 L172.83,357.44 L174.91,357.67 L176.99,357.90 L179.07,358.12 L181.15,358.35 L183.23,358.57 L185.31,358.79 L187.39,359.01 L189.47,359.23 L191.55,359.45 L193.63,359.67 L195.71,359.88 L197.79,360.10 L199.87,360.32 L201.95,360.53 L204.03,360.75 L206.11,360.96 L208.18,361.18 L210.26,361.40 L212.34,361.62 L214.42,361.84 L216.50,362.06 L218.58,362.29 L220.66,362.51 L222.74,362.74 L224.82,362.97 L226.90,363.20 L228.98,363.44 L231.06,363.68 L233.14,363.92 L235.22,364.16 L237.30,364.41 L239.38,364.67 L241.46,364.92 L243.54,365.18 L245.62,365.45 L247.70,365.72" fill="none" stroke="#1d7676" stroke-width="2.2" stroke-linejoin="round" />
<path d="M83.40,346.90 L85.48,347.68 L87.56,348.46 L89.64,349.23 L91.72,349.99 L93.80,350.74 L95.88,351.49 L97.96,352.23 L100.04,352.97 L102.12,353.69 L104.20,354.42 L106.28,355.13 L108.36,355.84 L110.44,356.55 L112.52,357.25 L114.60,357.94 L116.68,358.63 L118.76,359.31 L120.84,359.99 L122.92,360.66 L124.99,361.33 L127.07,362.00 L129.15,362.66 L131.23,363.31 L133.31,363.96 L135.39,364.61 L137.47,365.25 L139.55,365.89 L141.63,366.53 L143.71,367.16 L145.79,367.79 L147.87,368.42 L149.95,369.04 L152.03,369.66 L154.11,370.28 L156.19,370.90 L158.27,371.51 L160.35,372.12 L162.43,372.73 L164.51,373.34 L166.59,373.94 L168.67,374.54 L170.75,375.15 L172.83,375.75 L174.91,376.35 L176.99,376.94 L179.07,377.54 L181.15,378.14 L183.23,378.73 L185.31,379.33 L187.39,379.92 L189.47,380.52 L191.55,381.11 L193.63,381.71 L195.71,382.30 L197.79,382.90 L199.87,383.50 L201.95,384.09 L204.03,384.69 L206.11,385.29 L208.18,385.89 L210.26,386.49 L212.34,387.09 L214.42,387.70 L216.50,388.30 L218.58,388.91 L220.66,389.52 L222.74,390.13 L224.82,390.75 L226.90,391.36 L228.98,391.98 L231.06,392.61 L233.14,393.23 L235.22,393.86 L237.30,394.49 L239.38,395.12 L241.46,395.76 L243.54,396.40 L245.62,397.05 L247.70,397.70" fill="none" stroke="#303030" stroke-width="2.2" stroke-linejoin="round" />
<path d="M83.40,354.91 L85.48,356.03 L87.56,357.15 L89.64,358.28 L91.72,359.40 L93.80,360.53 L95.88,361.66 L97.96,362.80 L100.04,363.93 L102.12,365.07 L104.20,366.21 L106.28,367.35 L108.36,368.50 L110.44,369.65 L112.52,370.80 L114.60,371.95 L116.68,373.10 L118.76,374.26 L120.84,375.42 L122.92,376.58 L124.99,377.75 L127.07,378.92 L129.15,380.08 L131.23,381.26 L133.31,382.43 L135.39,383.61 L137.47,384.79 L139.55,385.97 L141.63,387.15 L143.71,388.34 L145.79,389.53 L147.87,390.72 L149.95,391.91 L152.03,393.11 L154.11,394.30 L156.19,395.51 L158.27,396.71 L160.35,397.91 L162.43,399.12 L164.51,400.33 L166.59,401.54 L168.67,402.76 L170.75,403.98 L172.83,405.20 L174.91,406.42 L176.99,407.64 L179.07,408.87 L181.15,410.10 L183.23,411.33 L185.31,412.57 L187.39,413.80 L189.47,415.04 L191.55,416.28 L193.63,417.53 L195.71,418.77 L197.79,420.02 L199.87,421.27 L201.95,422.53 L204.03,423.78 L206.11,425.04 L208.18,426.30 L210.26,427.56 L212.34,428.83 L214.42,430.10 L216.50,431.37 L218.58,432.64 L220.66,433.91 L222.74,435.19 L224.82,436.47 L226.90,437.75 L228.98,439.04 L231.06,440.32 L233.14,441.61 L235.22,442.91 L237.30,444.20 L239.38,445.50 L241.46,446.79 L243.54,448.10 L245.62,449.40 L247.70,450.71" fill="none" stroke="#050505" stroke-width="2.2" stroke-linejoin="round" />
<rect x="78.40" y="280.80" width="174.20" height="217.95" fill="none" stroke="#000" stroke-width="1.5"/>
<line x1="73.70" y1="498.90" x2="78.40" y2="498.90" stroke="#000" stroke-width="1.5" />
<text x="71.20" y="503.30" font-size="11.7" text-anchor="end" >10<tspan font-size="6.8" dy="-5.6" stroke-width="0.1">-2</tspan></text>
<line x1="75.50" y1="482.49" x2="78.40" y2="482.49" stroke="#000" stroke-width="1.3" />
<line x1="75.50" y1="472.90" x2="78.40" y2="472.90" stroke="#000" stroke-width="1.3" />
<line x1="75.50" y1="466.09" x2="78.40" y2="466.09" stroke="#000" stroke-width="1.3" />
<line x1="75.50" y1="460.81" x2="78.40" y2="460.81" stroke="#000" stroke-width="1.3" />
<line x1="75.50" y1="456.49" x2="78.40" y2="456.49" stroke="#000" stroke-width="1.3" />
<line x1="75.50" y1="452.84" x2="78.40" y2="452.84" stroke="#000" stroke-width="1.3" />
<line x1="75.50" y1="449.68" x2="78.40" y2="449.68" stroke="#000" stroke-width="1.3" />
<line x1="75.50" y1="446.89" x2="78.40" y2="446.89" stroke="#000" stroke-width="1.3" />
<line x1="73.70" y1="444.40" x2="78.40" y2="444.40" stroke="#000" stroke-width="1.5" />
<text x="71.20" y="448.80" font-size="11.7" text-anchor="end" >10<tspan font-size="6.8" dy="-5.6" stroke-width="0.1">-1</tspan></text>
<line x1="75.50" y1="427.99" x2="78.40" y2="427.99" stroke="#000" stroke-width="1.3" />
<line x1="75.50" y1="418.40" x2="78.40" y2="418.40" stroke="#000" stroke-width="1.3" />
<line x1="75.50" y1="411.59" x2="78.40" y2="411.59" stroke="#000" stroke-width="1.3" />
<line x1="75.50" y1="406.31" x2="78.40" y2="406.31" stroke="#000" stroke-width="1.3" />
<line x1="75.50" y1="401.99" x2="78.40" y2="401.99" stroke="#000" stroke-width="1.3" />
<line x1="75.50" y1="398.34" x2="78.40" y2="398.34" stroke="#000" stroke-width="1.3" />
<line x1="75.50" y1="395.18" x2="78.40" y2="395.18" stroke="#000" stroke-width="1.3" />
<line x1="75.50" y1="392.39" x2="78.40" y2="392.39" stroke="#000" stroke-width="1.3" />
<line x1="73.70" y1="389.90" x2="78.40" y2="389.90" stroke="#000" stroke-width="1.5" />
<text x="71.20" y="394.30" font-size="11.7" text-anchor="end" >10<tspan font-size="6.8" dy="-5.6" stroke-width="0.1">0</tspan></text>
<line x1="75.50" y1="373.49" x2="78.40" y2="373.49" stroke="#000" stroke-width="1.3" />
<line x1="75.50" y1="363.90" x2="78.40" y2="363.90" stroke="#000" stroke-width="1.3" />
<line x1="75.50" y1="357.09" x2="78.40" y2="357.09" stroke="#000" stroke-width="1.3" />
<line x1="75.50" y1="351.81" x2="78.40" y2="351.81" stroke="#000" stroke-width="1.3" />
<line x1="75.50" y1="347.49" x2="78.40" y2="347.49" stroke="#000" stroke-width="1.3" />
<line x1="75.50" y1="343.84" x2="78.40" y2="343.84" stroke="#000" stroke-width="1.3" />
<line x1="75.50" y1="340.68" x2="78.40" y2="340.68" stroke="#000" stroke-width="1.3" />
<line x1="75.50" y1="337.89" x2="78.40" y2="337.89" stroke="#000" stroke-width="1.3" />
<line x1="73.70" y1="335.40" x2="78.40" y2="335.40" stroke="#000" stroke-width="1.5" />
<text x="71.20" y="339.80" font-size="11.7" text-anchor="end" >10<tspan font-size="6.8" dy="-5.6" stroke-width="0.1">1</tspan></text>
<line x1="75.50" y1="318.99" x2="78.40" y2="318.99" stroke="#000" stroke-width="1.3" />
<line x1="75.50" y1="309.40" x2="78.40" y2="309.40" stroke="#000" stroke-width="1.3" />
<line x1="75.50" y1="302.59" x2="78.40" y2="302.59" stroke="#000" stroke-width="1.3" />
<line x1="75.50" y1="297.31" x2="78.40" y2="297.31" stroke="#000" stroke-width="1.3" />
<line x1="75.50" y1="292.99" x2="78.40" y2="292.99" stroke="#000" stroke-width="1.3" />
<line x1="75.50" y1="289.34" x2="78.40" y2="289.34" stroke="#000" stroke-width="1.3" />
<line x1="75.50" y1="286.18" x2="78.40" y2="286.18" stroke="#000" stroke-width="1.3" />
<line x1="75.50" y1="283.39" x2="78.40" y2="283.39" stroke="#000" stroke-width="1.3" />
<line x1="73.70" y1="280.90" x2="78.40" y2="280.90" stroke="#000" stroke-width="1.5" />
<text x="71.20" y="285.30" font-size="11.7" text-anchor="end" >10<tspan font-size="6.8" dy="-5.6" stroke-width="0.1">2</tspan></text>
<line x1="95.00" y1="498.75" x2="95.00" y2="503.45" stroke="#000" stroke-width="1.5" />
<text x="95.00" y="516.40" font-size="12.3" text-anchor="middle" >4</text>
<line x1="111.92" y1="498.75" x2="111.92" y2="501.35" stroke="#000" stroke-width="1.5" />
<line x1="128.84" y1="498.75" x2="128.84" y2="503.45" stroke="#000" stroke-width="1.5" />
<text x="128.84" y="516.40" font-size="12.3" text-anchor="middle" >6</text>
<line x1="145.76" y1="498.75" x2="145.76" y2="501.35" stroke="#000" stroke-width="1.5" />
<line x1="162.68" y1="498.75" x2="162.68" y2="503.45" stroke="#000" stroke-width="1.5" />
<text x="162.68" y="516.40" font-size="12.3" text-anchor="middle" >8</text>
<line x1="179.60" y1="498.75" x2="179.60" y2="501.35" stroke="#000" stroke-width="1.5" />
<line x1="196.52" y1="498.75" x2="196.52" y2="503.45" stroke="#000" stroke-width="1.5" />
<text x="196.52" y="516.40" font-size="12.3" text-anchor="middle" >10</text>
<line x1="213.44" y1="498.75" x2="213.44" y2="501.35" stroke="#000" stroke-width="1.5" />
<line x1="230.36" y1="498.75" x2="230.36" y2="503.45" stroke="#000" stroke-width="1.5" />
<text x="230.36" y="516.40" font-size="12.3" text-anchor="middle" >12</text>
<line x1="247.28" y1="498.75" x2="247.28" y2="501.35" stroke="#000" stroke-width="1.5" />
<text x="165.50" y="532.00" font-size="12.5" text-anchor="middle" >1000/T (1/K)</text>
<text x="8.30" y="283.60" font-size="14.6" text-anchor="start" >(c)</text>
<text transform="translate(41.70,383.50) rotate(-90)" font-size="12.55" text-anchor="middle">Thin Film Mobility (cm<tspan font-size="7" dy="-5.4" stroke-width="0.1">2</tspan><tspan dy="5.4">/Vs)</tspan></text>
<text x="90.20" y="297.60" font-size="10.8" text-anchor="start" >IGZO</text>
<text x="84.60" y="404.00" font-size="11.5" text-anchor="start" >n<tspan font-size="6.6" dy="3.6" stroke-width="0.1" >total</tspan><tspan dy="-3.6"> (cm</tspan><tspan font-size="5.6" dy="-5.6" stroke-width="0.1">-2</tspan><tspan dy="5.6">)</tspan></text>
<line x1="83.60" y1="418.70" x2="108.00" y2="418.70" stroke="#40e0e0" stroke-width="2.1" />
<text x="111.00" y="422.50" font-size="10.1" text-anchor="start" >11X10<tspan font-size="5.6" dy="-4.7" stroke-width="0.1">12</tspan></text>
<line x1="83.60" y1="433.06" x2="108.00" y2="433.06" stroke="#3fe02a" stroke-width="2.1" />
<text x="111.00" y="436.86" font-size="10.1" text-anchor="start" >10X10<tspan font-size="5.6" dy="-4.7" stroke-width="0.1">12</tspan></text>
<line x1="83.60" y1="447.42" x2="108.00" y2="447.42" stroke="#1d781d" stroke-width="2.1" />
<text x="111.00" y="451.22" font-size="10.1" text-anchor="start" >9X10<tspan font-size="5.6" dy="-4.7" stroke-width="0.1">12</tspan></text>
<line x1="83.60" y1="461.78" x2="108.00" y2="461.78" stroke="#1d7676" stroke-width="2.1" />
<text x="111.00" y="465.58" font-size="10.1" text-anchor="start" >8X10<tspan font-size="5.6" dy="-4.7" stroke-width="0.1">12</tspan></text>
<line x1="83.60" y1="476.14" x2="108.00" y2="476.14" stroke="#303030" stroke-width="2.1" />
<text x="111.00" y="479.94" font-size="10.1" text-anchor="start" >7X10<tspan font-size="5.6" dy="-4.7" stroke-width="0.1">12</tspan></text>
<line x1="83.60" y1="490.50" x2="108.00" y2="490.50" stroke="#050505" stroke-width="2.1" />
<text x="111.00" y="494.30" font-size="10.1" text-anchor="start" >6X10<tspan font-size="5.6" dy="-4.7" stroke-width="0.1">12</tspan></text>
<rect x="335.85" y="280.70" width="174.05" height="218.20" fill="none" stroke="#000" stroke-width="1.6"/>
<clipPath id="cd"><rect x="335.85" y="280.70" width="174.05" height="219.20"/></clipPath>
<g clip-path="url(#cd)">
<path d="M336.00,497.90 L336.87,497.90 L337.75,497.90 L338.62,497.90 L339.49,497.90 L340.37,497.90 L341.24,497.90 L342.11,497.90 L342.99,497.90 L343.86,497.90 L344.73,497.90 L345.61,497.90 L346.48,497.90 L347.35,497.90 L348.23,497.90 L349.10,497.90 L349.97,497.90 L350.85,497.90 L351.72,497.90 L352.59,497.90 L353.47,497.90 L354.34,497.90 L355.21,497.90 L356.09,497.90 L356.96,497.81 L357.83,497.66 L358.71,497.51 L359.58,497.35 L360.45,497.18 L361.33,497.00 L362.20,496.81 L363.07,496.61 L363.95,496.40 L364.82,496.19 L365.69,495.96 L366.57,495.73 L367.44,495.49 L368.31,495.24 L369.19,494.98 L370.06,494.72 L370.93,494.45 L371.81,494.16 L372.68,493.88 L373.55,493.58 L374.43,493.27 L375.30,492.96 L376.17,492.64 L377.05,492.32 L377.92,491.98 L378.79,491.64 L379.67,491.30 L380.54,490.94 L381.42,490.58 L382.29,490.21 L383.16,489.84 L384.04,489.46 L384.91,489.07 L385.78,488.68 L386.66,488.28 L387.53,487.87 L388.40,487.46 L389.28,487.04 L390.15,486.62 L391.02,486.19 L391.90,485.75 L392.77,485.31 L393.64,484.87 L394.52,484.42 L395.39,483.96 L396.26,483.50 L397.14,483.03 L398.01,482.56 L398.88,482.08 L399.76,481.60 L400.63,481.12 L401.50,480.63 L402.38,480.13 L403.25,479.64 L404.12,479.13 L405.00,478.63 L405.87,478.12 L406.74,477.60 L407.62,477.08 L408.49,476.56 L409.36,476.03 L410.24,475.50 L411.11,474.97 L411.98,474.44 L412.86,473.90 L413.73,473.35 L414.60,472.81 L415.48,472.26 L416.35,471.71 L417.22,471.15 L418.10,470.60 L418.97,470.04 L419.84,469.48 L420.72,468.91 L421.59,468.35 L422.46,467.78 L423.34,467.21 L424.21,466.64 L425.08,466.06 L425.96,465.49 L426.83,464.91 L427.70,464.33 L428.58,463.75 L429.45,463.17 L430.32,462.59 L431.20,462.00 L432.07,461.42 L432.94,460.83 L433.82,460.24 L434.69,459.66 L435.56,459.07 L436.44,458.48 L437.31,457.89 L438.18,457.30 L439.06,456.71 L439.93,456.12 L440.80,455.53 L441.68,454.94 L442.55,454.35 L443.42,453.76 L444.30,453.17 L445.17,452.58 L446.04,451.99 L446.92,451.41 L447.79,450.82 L448.66,450.23 L449.54,449.65 L450.41,449.06 L451.28,448.48 L452.16,447.90 L453.03,447.32 L453.90,446.74 L454.78,446.16 L455.65,445.59 L456.52,445.01 L457.40,444.44 L458.27,443.87 L459.14,443.30 L460.02,442.74 L460.89,442.17 L461.76,441.61 L462.64,441.05 L463.51,440.49 L464.38,439.94 L465.26,439.39 L466.13,438.84 L467.01,438.30 L467.88,437.75 L468.75,437.21 L469.63,436.68 L470.50,436.14 L471.37,435.61 L472.25,435.09 L473.12,434.57 L473.99,434.05 L474.87,433.53 L475.74,433.02 L476.61,432.52 L477.49,432.01 L478.36,431.51 L479.23,431.02 L480.11,430.53 L480.98,430.04 L481.85,429.56 L482.73,429.09 L483.60,428.62 L484.47,428.15 L485.35,427.69 L486.22,427.23 L487.09,426.78 L487.97,426.34 L488.84,425.90 L489.71,425.46 L490.59,425.03 L491.46,424.61 L492.33,424.19 L493.21,423.78 L494.08,423.37 L494.95,422.97 L495.83,422.58 L496.70,422.19 L497.57,421.81 L498.45,421.44 L499.32,421.07 L500.19,420.71 L501.07,420.35 L501.94,420.00 L502.81,419.66 L503.69,419.33 L504.56,419.00 L505.43,418.69 L506.31,418.37 L507.18,418.07 L508.05,417.77 L508.93,417.48 L509.80,417.20" fill="none" stroke="#12127a" stroke-width="1.9" stroke-linejoin="round" />
<path d="M336.00,497.90 L336.87,497.90 L337.75,497.90 L338.62,497.90 L339.49,497.90 L340.37,497.90 L341.24,497.90 L342.11,497.89 L342.99,497.87 L343.86,497.84 L344.73,497.81 L345.61,497.77 L346.48,497.73 L347.35,497.68 L348.23,497.62 L349.10,497.56 L349.97,497.49 L350.85,497.41 L351.72,497.32 L352.59,497.23 L353.47,497.13 L354.34,497.02 L355.21,496.90 L356.09,496.77 L356.96,496.64 L357.83,496.49 L358.71,496.34 L359.58,496.18 L360.45,496.00 L361.33,495.82 L362.20,495.63 L363.07,495.42 L363.95,495.21 L364.82,494.98 L365.69,494.74 L366.57,494.50 L367.44,494.24 L368.31,493.96 L369.19,493.68 L370.06,493.38 L370.93,493.07 L371.81,492.75 L372.68,492.42 L373.55,492.07 L374.43,491.71 L375.30,491.33 L376.17,490.94 L377.05,490.54 L377.92,490.12 L378.79,489.69 L379.67,489.24 L380.54,488.78 L381.42,488.30 L382.29,487.81 L383.16,487.30 L384.04,486.77 L384.91,486.23 L385.78,485.67 L386.66,485.10 L387.53,484.50 L388.40,483.90 L389.28,483.27 L390.15,482.63 L391.02,481.96 L391.90,481.29 L392.77,480.59 L393.64,479.89 L394.52,479.16 L395.39,478.42 L396.26,477.66 L397.14,476.89 L398.01,476.10 L398.88,475.30 L399.76,474.49 L400.63,473.66 L401.50,472.81 L402.38,471.96 L403.25,471.08 L404.12,470.20 L405.00,469.30 L405.87,468.39 L406.74,467.47 L407.62,466.53 L408.49,465.58 L409.36,464.62 L410.24,463.65 L411.11,462.67 L411.98,461.67 L412.86,460.67 L413.73,459.65 L414.60,458.62 L415.48,457.59 L416.35,456.54 L417.22,455.48 L418.10,454.42 L418.97,453.34 L419.84,452.25 L420.72,451.16 L421.59,450.06 L422.46,448.94 L423.34,447.82 L424.21,446.69 L425.08,445.55 L425.96,444.40 L426.83,443.24 L427.70,442.07 L428.58,440.90 L429.45,439.71 L430.32,438.52 L431.20,437.32 L432.07,436.11 L432.94,434.89 L433.82,433.67 L434.69,432.43 L435.56,431.19 L436.44,429.94 L437.31,428.68 L438.18,427.41 L439.06,426.14 L439.93,424.85 L440.80,423.56 L441.68,422.26 L442.55,420.96 L443.42,419.64 L444.30,418.32 L445.17,416.99 L446.04,415.66 L446.92,414.31 L447.79,412.96 L448.66,411.60 L449.54,410.24 L450.41,408.87 L451.28,407.49 L452.16,406.10 L453.03,404.71 L453.90,403.31 L454.78,401.90 L455.65,400.49 L456.52,399.08 L457.40,397.65 L458.27,396.23 L459.14,394.79 L460.02,393.36 L460.89,391.91 L461.76,390.46 L462.64,389.01 L463.51,387.55 L464.38,386.09 L465.26,384.62 L466.13,383.15 L467.01,381.68 L467.88,380.20 L468.75,378.72 L469.63,377.23 L470.50,375.75 L471.37,374.25 L472.25,372.76 L473.12,371.26 L473.99,369.76 L474.87,368.26 L475.74,366.75 L476.61,365.25 L477.49,363.74 L478.36,362.23 L479.23,360.71 L480.11,359.20 L480.98,357.68 L481.85,356.16 L482.73,354.65 L483.60,353.13 L484.47,351.61 L485.35,350.09 L486.22,348.57 L487.09,347.04 L487.97,345.52 L488.84,344.00 L489.71,342.48 L490.59,340.96 L491.46,339.44 L492.33,337.92 L493.21,336.40 L494.08,334.88 L494.95,333.37 L495.83,331.85 L496.70,330.34 L497.57,328.82 L498.45,327.31 L499.32,325.80 L500.19,324.30 L501.07,322.79 L501.94,321.29 L502.81,319.79 L503.69,318.29 L504.56,316.80 L505.43,315.31 L506.31,313.82 L507.18,312.34 L508.05,310.86 L508.93,309.38 L509.80,307.91" fill="none" stroke="#178417" stroke-width="1.9" stroke-linejoin="round" />
</g>
<line x1="331.15" y1="498.90" x2="335.85" y2="498.90" stroke="#000" stroke-width="1.6" />
<text x="328.95" y="503.30" font-size="12.2" text-anchor="end" >0</text>
<line x1="333.25" y1="480.72" x2="335.85" y2="480.72" stroke="#000" stroke-width="1.6" />
<line x1="331.15" y1="462.53" x2="335.85" y2="462.53" stroke="#000" stroke-width="1.6" />
<text x="328.95" y="466.93" font-size="12.2" text-anchor="end" >5</text>
<line x1="333.25" y1="444.35" x2="335.85" y2="444.35" stroke="#000" stroke-width="1.6" />
<line x1="331.15" y1="426.17" x2="335.85" y2="426.17" stroke="#000" stroke-width="1.6" />
<text x="328.95" y="430.57" font-size="12.2" text-anchor="end" >10</text>
<line x1="333.25" y1="407.98" x2="335.85" y2="407.98" stroke="#000" stroke-width="1.6" />
<line x1="331.15" y1="389.80" x2="335.85" y2="389.80" stroke="#000" stroke-width="1.6" />
<text x="328.95" y="394.20" font-size="12.2" text-anchor="end" >15</text>
<line x1="333.25" y1="371.62" x2="335.85" y2="371.62" stroke="#000" stroke-width="1.6" />
<line x1="331.15" y1="353.43" x2="335.85" y2="353.43" stroke="#000" stroke-width="1.6" />
<text x="328.95" y="357.83" font-size="12.2" text-anchor="end" >20</text>
<line x1="333.25" y1="335.25" x2="335.85" y2="335.25" stroke="#000" stroke-width="1.6" />
<line x1="331.15" y1="317.07" x2="335.85" y2="317.07" stroke="#000" stroke-width="1.6" />
<text x="328.95" y="321.47" font-size="12.2" text-anchor="end" >25</text>
<line x1="333.25" y1="298.88" x2="335.85" y2="298.88" stroke="#000" stroke-width="1.6" />
<line x1="331.15" y1="280.70" x2="335.85" y2="280.70" stroke="#000" stroke-width="1.6" />
<text x="328.95" y="285.10" font-size="12.2" text-anchor="end" >30</text>
<line x1="344.55" y1="498.90" x2="344.55" y2="501.50" stroke="#000" stroke-width="1.6" />
<line x1="370.66" y1="498.90" x2="370.66" y2="503.60" stroke="#000" stroke-width="1.6" />
<text x="370.76" y="518.00" font-size="12.1" text-anchor="middle" letter-spacing="0.2">3.0x10<tspan font-size="6.8" dy="-5.6" stroke-width="0.1">12</tspan></text>
<line x1="396.77" y1="498.90" x2="396.77" y2="501.50" stroke="#000" stroke-width="1.6" />
<line x1="422.88" y1="498.90" x2="422.88" y2="503.60" stroke="#000" stroke-width="1.6" />
<text x="422.98" y="518.00" font-size="12.1" text-anchor="middle" letter-spacing="0.2">6.0x10<tspan font-size="6.8" dy="-5.6" stroke-width="0.1">12</tspan></text>
<line x1="448.98" y1="498.90" x2="448.98" y2="501.50" stroke="#000" stroke-width="1.6" />
<line x1="475.09" y1="498.90" x2="475.09" y2="503.60" stroke="#000" stroke-width="1.6" />
<text x="475.19" y="518.00" font-size="12.1" text-anchor="middle" letter-spacing="0.2">9.0x10<tspan font-size="6.8" dy="-5.6" stroke-width="0.1">12</tspan></text>
<line x1="501.20" y1="498.90" x2="501.20" y2="501.50" stroke="#000" stroke-width="1.6" />
<text x="423.00" y="533.60" font-size="12.4" text-anchor="middle" >Carrier Concentration (cm<tspan font-size="5.8" dy="-5.8" stroke-width="0.1">-2</tspan><tspan dy="5.8">)</tspan></text>
<text x="278.70" y="284.10" font-size="14.9" text-anchor="start" >(d)</text>
<text transform="translate(304.60,384.00) rotate(-90)" font-size="12.3" text-anchor="middle">Thin Film Mobility (cm<tspan font-size="7" dy="-5.4" stroke-width="0.1">2</tspan><tspan dy="5.4">/Vs)</tspan></text>
<text x="347.30" y="299.80" font-size="11.4" text-anchor="start" >IGZO</text>
<text x="347.30" y="314.60" font-size="11.4" text-anchor="start" >T=300K</text>
<line x1="347.00" y1="325.80" x2="373.20" y2="325.80" stroke="#12127a" stroke-width="1.8" />
<text x="375.3" y="329.8" font-size="11.4"><tspan font-family="Liberation Serif, Times New Roman, serif" font-weight="normal" font-size="13">&#916;</tspan><tspan font-size="6.5" dy="3.4" stroke-width="0.1" font-style='italic'>rms</tspan><tspan dy="-3.4">= 1.2nm</tspan></text>
<line x1="347.00" y1="343.80" x2="373.20" y2="343.80" stroke="#178417" stroke-width="1.8" />
<text x="375.3" y="347.8" font-size="11.4"><tspan font-family="Liberation Serif, Times New Roman, serif" font-weight="normal" font-size="13">&#916;</tspan><tspan font-size="6.5" dy="3.4" stroke-width="0.1" font-style='italic'>rms</tspan><tspan dy="-3.4">= 0.2nm</tspan></text>
</g>
</svg>
</body></html>
